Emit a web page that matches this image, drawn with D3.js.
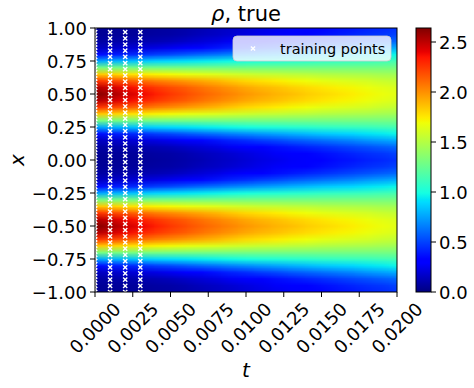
<!DOCTYPE html>
<html>
<head>
<meta charset="utf-8">
<script src="https://cdn.jsdelivr.net/npm/d3@7"></script>
<style>
  body { margin: 0; background: #fff; }
  text { font-family: "DejaVu Sans", sans-serif; fill: #000; }
</style>
</head>
<body>
<div id="chartDiv"></div>
<script>
// time columns of the field (s) and distance from nearest density peak (|x| = 0.5)
var tGrid = [0, 0.001, 0.002, 0.003, 0.004, 0.005, 0.006, 0.007, 0.008, 0.009, 0.010,
             0.011, 0.012, 0.013, 0.014, 0.015, 0.016, 0.017, 0.018, 0.019, 0.020];
var dGrid = [0, 0.05, 0.10, 0.15, 0.20, 0.25, 0.30, 0.35, 0.40, 0.45, 0.50];

// rho, one row per t column, one value per dGrid step
var rhoProfiles = [
	[2.63, 2.52, 2.26, 1.85, 1.30, 0.75, 0.35, 0.15, 0.08, 0.05, 0.05],
	[2.56, 2.46, 2.21, 1.82, 1.30, 0.79, 0.39, 0.17, 0.09, 0.06, 0.05],
	[2.47, 2.38, 2.16, 1.78, 1.30, 0.82, 0.42, 0.19, 0.10, 0.06, 0.06],
	[2.39, 2.31, 2.10, 1.75, 1.30, 0.85, 0.45, 0.21, 0.11, 0.07, 0.06],
	[2.32, 2.25, 2.05, 1.72, 1.30, 0.88, 0.49, 0.23, 0.12, 0.08, 0.07],
	[2.25, 2.19, 2.01, 1.70, 1.30, 0.90, 0.52, 0.26, 0.14, 0.09, 0.08],
	[2.19, 2.14, 1.97, 1.67, 1.30, 0.92, 0.56, 0.30, 0.17, 0.11, 0.10],
	[2.13, 2.08, 1.93, 1.65, 1.30, 0.94, 0.60, 0.34, 0.20, 0.14, 0.12],
	[2.08, 2.03, 1.89, 1.63, 1.30, 0.96, 0.63, 0.38, 0.23, 0.16, 0.15],
	[2.03, 1.98, 1.84, 1.60, 1.30, 0.98, 0.67, 0.42, 0.27, 0.19, 0.17],
	[1.98, 1.93, 1.80, 1.58, 1.30, 1.00, 0.70, 0.45, 0.30, 0.22, 0.20],
	[1.94, 1.89, 1.77, 1.56, 1.30, 1.02, 0.73, 0.49, 0.33, 0.25, 0.23],
	[1.90, 1.86, 1.74, 1.55, 1.30, 1.03, 0.76, 0.52, 0.36, 0.28, 0.25],
	[1.87, 1.82, 1.71, 1.53, 1.30, 1.05, 0.79, 0.56, 0.39, 0.31, 0.28],
	[1.83, 1.79, 1.69, 1.52, 1.30, 1.06, 0.82, 0.59, 0.42, 0.33, 0.30],
	[1.80, 1.76, 1.66, 1.50, 1.30, 1.08, 0.85, 0.62, 0.45, 0.36, 0.33],
	[1.77, 1.73, 1.64, 1.49, 1.30, 1.09, 0.87, 0.65, 0.48, 0.39, 0.36],
	[1.74, 1.71, 1.62, 1.48, 1.30, 1.10, 0.89, 0.68, 0.51, 0.42, 0.38],
	[1.71, 1.68, 1.60, 1.47, 1.30, 1.11, 0.92, 0.72, 0.54, 0.45, 0.41],
	[1.68, 1.65, 1.57, 1.45, 1.30, 1.13, 0.94, 0.75, 0.57, 0.47, 0.43],
	[1.65, 1.62, 1.55, 1.44, 1.30, 1.14, 0.97, 0.78, 0.60, 0.50, 0.46]
];

// training points
var trainT = [0.001, 0.002, 0.003];
var trainX = [-1.000, -0.953, -0.906, -0.859, -0.813, -0.766, -0.719, -0.672, -0.625, -0.578,
	-0.531, -0.484, -0.438, -0.391, -0.344, -0.297, -0.250, -0.203, -0.156, -0.109, -0.063,
	-0.016, 0.031, 0.078, 0.125, 0.172, 0.219, 0.266, 0.313, 0.359, 0.406, 0.453, 0.500,
	0.547, 0.594, 0.641, 0.688, 0.734, 0.781, 0.828, 0.875, 0.922, 0.969];
var initX = [-1.000, -0.977, -0.953, -0.930, -0.906, -0.883, -0.859, -0.836, -0.813, -0.789,
	-0.766, -0.742, -0.719, -0.695, -0.672, -0.648, -0.625, -0.602, -0.578, -0.555, -0.531,
	-0.508, -0.484, -0.461, -0.438, -0.414, -0.391, -0.367, -0.344, -0.320, -0.297, -0.273,
	-0.250, -0.227, -0.203, -0.180, -0.156, -0.133, -0.109, -0.086, -0.063, -0.039, -0.016,
	0.008, 0.031, 0.055, 0.078, 0.102, 0.125, 0.148, 0.172, 0.195, 0.219, 0.242, 0.266,
	0.289, 0.313, 0.336, 0.359, 0.383, 0.406, 0.430, 0.453, 0.477, 0.500, 0.523, 0.547,
	0.570, 0.594, 0.617, 0.641, 0.664, 0.688, 0.711, 0.734, 0.758, 0.781, 0.805, 0.828,
	0.852, 0.875, 0.898, 0.922, 0.945, 0.969, 0.992];

var xTicks = [0, 0.0025, 0.005, 0.0075, 0.01, 0.0125, 0.015, 0.0175, 0.02];
var yTicks = [1, 0.75, 0.5, 0.25, 0, -0.25, -0.5, -0.75, -1];
var cbTicks = [0, 0.5, 1.0, 1.5, 2.0, 2.5];
var rhoMax = 2.64;

var W = 474, H = 388;
var pLeft = 95, pTop = 28, pw = 302, ph = 264;
var cbX = 416, cbW = 15;
var tickFont = 18;

// matplotlib jet, as three channel scales
var jetR = d3.scaleLinear().domain([0, 0.35, 0.66, 0.89, 1]).range([0, 0, 1, 1, 0.5]).clamp(true);
var jetG = d3.scaleLinear().domain([0, 0.125, 0.375, 0.64, 0.91, 1]).range([0, 0, 1, 1, 0, 0]).clamp(true);
var jetB = d3.scaleLinear().domain([0, 0.11, 0.34, 0.65, 1]).range([0.5, 1, 1, 0, 0]).clamp(true);
function jet(f) {
	return d3.rgb(jetR(f) * 255, jetG(f) * 255, jetB(f) * 255);
}
var norm = d3.scaleLinear().domain([0, rhoMax]).range([0, 1]).clamp(true);

var x = d3.scaleLinear().domain([0, 0.02]).range([pLeft, pLeft + pw]);
var y = d3.scaleLinear().domain([-1, 1]).range([pTop + ph, pTop]);
var cbY = d3.scaleLinear().domain([0, rhoMax]).range([pTop + ph, pTop]);

var svg = d3.select("#chartDiv").append("svg").attr("width", W).attr("height", H);

// field image: one pixel per (t, x) sample, smoothed by the browser when scaled
var xRows = d3.range(41).map(function(i) { return 1 - i * 0.05; });
var cvs = document.createElement("canvas");
cvs.width = tGrid.length; cvs.height = xRows.length;
var ctx = cvs.getContext("2d");
var img = ctx.createImageData(cvs.width, cvs.height);
xRows.forEach(function(xv, r) {
	var di = Math.round(Math.abs(Math.abs(xv) - 0.5) / 0.05);
	tGrid.forEach(function(tv, c) {
		var col = jet(norm(rhoProfiles[c][di]));
		var k = (r * cvs.width + c) * 4;
		img.data[k] = col.r; img.data[k + 1] = col.g; img.data[k + 2] = col.b; img.data[k + 3] = 255;
	});
});
ctx.putImageData(img, 0, 0);

var defs = svg.append("defs");
defs.append("clipPath").attr("id", "plotClip")
	.append("rect").attr("x", pLeft).attr("y", pTop).attr("width", pw).attr("height", ph);

svg.append("g").attr("clip-path", "url(#plotClip)")
	.append("image")
	.attr("href", cvs.toDataURL())
	.attr("x", x(-0.0005)).attr("width", x(0.0205) - x(-0.0005))
	.attr("y", y(1.025)).attr("height", y(-1.025) - y(1.025))
	.attr("preserveAspectRatio", "none");

// training points
var xMark = "M-2.1,-2.1L2.1,2.1M-2.1,2.1L2.1,-2.1";
var pts = [];
initX.forEach(function(v) { pts.push([0, v]); });
trainT.forEach(function(tv) { trainX.forEach(function(v) { pts.push([tv, v]); }); });
svg.append("g").attr("clip-path", "url(#plotClip)")
	.selectAll("path").data(pts).enter().append("path")
	.attr("d", xMark)
	.attr("transform", function(d) { return "translate(" + x(d[0]) + "," + y(d[1]) + ")"; })
	.attr("stroke", "#fff").attr("stroke-width", 1.4).attr("fill", "none");

// legend
var lg = svg.append("g");
lg.append("rect").attr("x", 233).attr("y", 36).attr("width", 158).attr("height", 25)
	.attr("rx", 4).attr("fill", "#fff").attr("fill-opacity", 0.8)
	.attr("stroke", "#ccc").attr("stroke-opacity", 0.8);
lg.append("path").attr("d", xMark).attr("transform", "translate(253,48.5)")
	.attr("stroke", "#fff").attr("stroke-width", 1.4).attr("fill", "none");
lg.append("text").attr("x", 280).attr("y", 53.5).style("font-size", "14.5px").text("training points");

// frame
svg.append("rect").attr("x", pLeft).attr("y", pTop).attr("width", pw).attr("height", ph)
	.attr("fill", "none").attr("stroke", "#000").attr("stroke-width", 1);

// x axis
var gx = svg.append("g");
gx.selectAll("line").data(xTicks).enter().append("line")
	.attr("x1", function(d) { return x(d); }).attr("x2", function(d) { return x(d); })
	.attr("y1", pTop + ph).attr("y2", pTop + ph + 5).attr("stroke", "#000");
gx.selectAll("text").data(xTicks).enter().append("text")
	.attr("text-anchor", "middle").attr("dominant-baseline", "central")
	.attr("transform", function(d) { return "translate(" + x(d) + "," + 328 + ") rotate(-45)"; })
	.style("font-size", tickFont + "px")
	.text(function(d) { return d3.format(".4f")(d); });
svg.append("text").attr("x", pLeft + pw / 2).attr("y", 377).attr("text-anchor", "middle")
	.style("font-size", "20px").style("font-style", "italic").text("t");

// y axis
var gy = svg.append("g");
gy.selectAll("line").data(yTicks).enter().append("line")
	.attr("x1", pLeft - 5).attr("x2", pLeft)
	.attr("y1", function(d) { return y(d); }).attr("y2", function(d) { return y(d); })
	.attr("stroke", "#000");
gy.selectAll("text").data(yTicks).enter().append("text")
	.attr("x", pLeft - 8).attr("y", function(d) { return y(d); })
	.attr("text-anchor", "end").attr("dominant-baseline", "central")
	.style("font-size", tickFont + "px")
	.text(function(d) { return d3.format(".2f")(d).replace("-", "\u2212"); });
svg.append("text").attr("transform", "translate(17," + (pTop + ph / 2) + ") rotate(-90)")
	.attr("text-anchor", "middle").attr("dominant-baseline", "central")
	.style("font-size", "20px").style("font-style", "italic").text("x");

// title
var title = svg.append("text").attr("x", pLeft + pw / 2).attr("y", 21).attr("text-anchor", "middle")
	.style("font-size", "21px");
title.append("tspan").style("font-style", "italic").text("\u03c1");
title.append("tspan").text(", true");

// colorbar
var stops = [0, 0.11, 0.125, 0.34, 0.35, 0.375, 0.64, 0.65, 0.66, 0.89, 0.91, 1];
var grad = defs.append("linearGradient").attr("id", "jetGrad")
	.attr("x1", 0).attr("y1", 1).attr("x2", 0).attr("y2", 0);
grad.selectAll("stop").data(stops).enter().append("stop")
	.attr("offset", function(d) { return d; })
	.attr("stop-color", function(d) { return jet(d).formatHex(); });
svg.append("rect").attr("x", cbX).attr("y", pTop).attr("width", cbW).attr("height", ph)
	.attr("fill", "url(#jetGrad)").attr("stroke", "#000").attr("stroke-width", 1);
var gc = svg.append("g");
gc.selectAll("line").data(cbTicks).enter().append("line")
	.attr("x1", cbX + cbW).attr("x2", cbX + cbW + 5)
	.attr("y1", function(d) { return cbY(d); }).attr("y2", function(d) { return cbY(d); })
	.attr("stroke", "#000");
gc.selectAll("text").data(cbTicks).enter().append("text")
	.attr("x", cbX + cbW + 8).attr("y", function(d) { return cbY(d); })
	.attr("dominant-baseline", "central")
	.style("font-size", tickFont + "px")
	.text(function(d) { return d3.format(".1f")(d); });
</script>
</body>
</html>
